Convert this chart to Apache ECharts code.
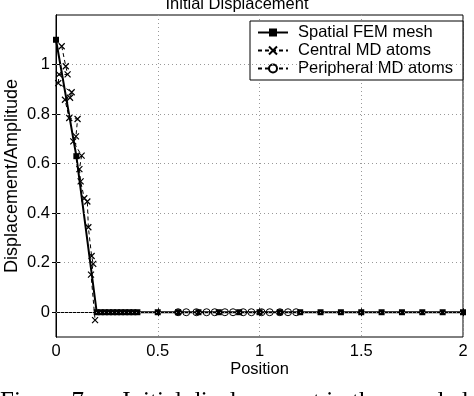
<!DOCTYPE html>
<html>
<head>
<meta charset="utf-8">
<script src="https://cdn.jsdelivr.net/npm/echarts@6/dist/echarts.min.js"></script>
<style>
  html, body { margin: 0; padding: 0; background: #fff; }
  #chart { width: 474px; height: 396px; }
</style>
</head>
<body>
<div id="chart"></div>
<script>
// values
const femX = [0, 0.1, 0.2, 0.22, 0.24, 0.26, 0.28, 0.3, 0.32, 0.34, 0.36, 0.38, 0.4,
  0.5, 0.6, 0.7, 0.8, 0.9, 1.0, 1.1, 1.2, 1.3, 1.4, 1.5, 1.6, 1.7, 1.8, 1.9, 2.0];
const femY = [1.1, 0.63, 0, 0, 0, 0, 0, 0, 0, 0, 0, 0, 0,
  0, 0, 0, 0, 0, 0, 0, 0, 0, 0, 0, 0, 0, 0, 0, 0];

const centralX = [0.028, 0.048, 0.057, 0.015, 0.011, 0.077, 0.069, 0.044, 0.065, 0.106, 0.098,
  0.085, 0.126, 0.115, 0.121, 0.139, 0.154, 0.159, 0.175, 0.183, 0.172, 0.192];
const centralY = [1.074, 0.993, 0.96, 0.96, 0.925, 0.888, 0.866, 0.858, 0.784, 0.78, 0.71,
  0.69, 0.632, 0.578, 0.528, 0.46, 0.447, 0.343, 0.227, 0.195, 0.152, -0.032];

const periX = [0.6, 0.64, 0.69, 0.74, 0.78, 0.83, 0.87, 0.92, 0.96, 1.01, 1.05, 1.1, 1.14, 1.18];
const periY = [0, 0, 0, 0, 0, 0, 0, 0, 0, 0, 0, 0, 0, 0];

const yTicks = [0, 0.2, 0.4, 0.6, 0.8, 1];
const xTicks = [0, 0.5, 1, 1.5, 2];

const names = ['Spatial FEM mesh', 'Central MD atoms', 'Peripheral MD atoms'];
const font = 'Liberation Sans';
const fs = 16.5;

const pairs = (xs, ys) => xs.map((x, i) => [x, ys[i]]);

const chart = echarts.init(document.getElementById('chart'));

const option = {
  animation: false,
  backgroundColor: '#fff',
  title: {
    text: 'Initial Displacement',
    left: 'center',
    top: -4,
    padding: 0,
    textStyle: { fontFamily: font, fontSize: fs, fontWeight: 'normal', color: '#000' }
  },
  grid: {
    left: 56, right: 11, top: 15, bottom: 59,
    outerBoundsMode: 'none', containLabel: false,
    show: true, borderColor: '#000', borderWidth: 1
  },
  legend: {
    data: names,
    orient: 'vertical',
    left: 250,
    top: 21,
    padding: [3, 10, 3, 7],
    itemGap: 1,
    itemWidth: 30,
    itemHeight: 10,
    backgroundColor: '#fff',
    borderColor: '#000',
    borderWidth: 1,
    borderRadius: 0,
    textStyle: { fontFamily: font, fontSize: fs, color: '#000', padding: [0, 0, 0, 5] }
  },
  xAxis: [{
    type: 'value',
    min: 0, max: 2, interval: 0.5,
    name: 'Position',
    nameLocation: 'middle',
    nameGap: 24,
    nameMoveOverlap: false,
    nameTextStyle: { fontFamily: font, fontSize: fs, color: '#000' },
    axisLine: { lineStyle: { color: '#000' } },
    axisTick: { inside: true, length: 4, lineStyle: { color: '#000' } },
    axisLabel: { fontFamily: font, fontSize: fs, color: '#000', margin: 6 },
    splitLine: { show: true, lineStyle: { color: '#999', type: [1, 3] } }
  }, {
    type: 'value', position: 'top',
    min: 0, max: 2, interval: 0.5,
    axisLine: { lineStyle: { color: '#000' } },
    axisTick: { inside: true, length: 4, lineStyle: { color: '#000' } },
    axisLabel: { show: false },
    splitLine: { show: false }
  }],
  yAxis: [{
    type: 'value',
    min: -0.1, max: 1.2,
    name: 'Displacement/Amplitude',
    nameLocation: 'middle',
    nameGap: 35,
    nameMoveOverlap: false,
    nameTextStyle: { fontFamily: font, fontSize: 18, color: '#000' },
    axisLine: { show: true, lineStyle: { color: '#000' } },
    axisTick: { show: true, inside: true, length: 4, customValues: yTicks, lineStyle: { color: '#000' } },
    axisLabel: { fontFamily: font, fontSize: fs, color: '#000', margin: 6, customValues: yTicks },
    splitLine: { show: false }
  }, {
    type: 'value', position: 'right',
    min: -0.1, max: 1.2,
    axisLine: { show: true, lineStyle: { color: '#000' } },
    axisTick: { show: true, inside: true, length: 4, customValues: yTicks, lineStyle: { color: '#000' } },
    axisLabel: { show: false },
    splitLine: { show: false }
  }],
  series: [
    {
      name: 'grid',
      type: 'line',
      data: [],
      silent: true,
      markLine: {
        silent: true,
        symbol: 'none',
        label: { show: false },
        lineStyle: { color: '#999', type: [1, 3], width: 1 },
        data: yTicks.map(v => ({ yAxis: v }))
      }
    },
    {
      name: names[2],
      type: 'line',
      z: 3,
      data: pairs(periX, periY),
      symbol: 'circle',
      symbolSize: 7,
      lineStyle: { color: '#000', width: 1, type: [4, 3] },
      itemStyle: { color: '#fff', borderColor: '#000', borderWidth: 1 }
    },
    {
      name: names[0],
      type: 'line',
      z: 4,
      data: pairs(femX, femY),
      symbol: 'rect',
      symbolSize: 6,
      lineStyle: { color: '#000', width: 2 },
      itemStyle: { color: '#000' }
    },
    {
      name: names[1],
      type: 'line',
      z: 5,
      data: pairs(centralX, centralY),
      symbol: 'path://M0,0L10,10M10,0L0,10',
      symbolSize: 6,
      lineStyle: { color: '#000', width: 1, type: [4, 3] },
      itemStyle: { color: '#000', borderColor: '#000', borderWidth: 1.2 }
    }
  ],
  graphic: [{
    type: 'text',
    left: 0,
    top: 390,
    style: {
      text: 'Figure 7:     Initial displacement in the coupled',
      fontFamily: 'Liberation Serif',
      fontSize: 25,
      fill: '#000'
    }
  }]
};

chart.setOption(option);
</script>
</body>
</html>
